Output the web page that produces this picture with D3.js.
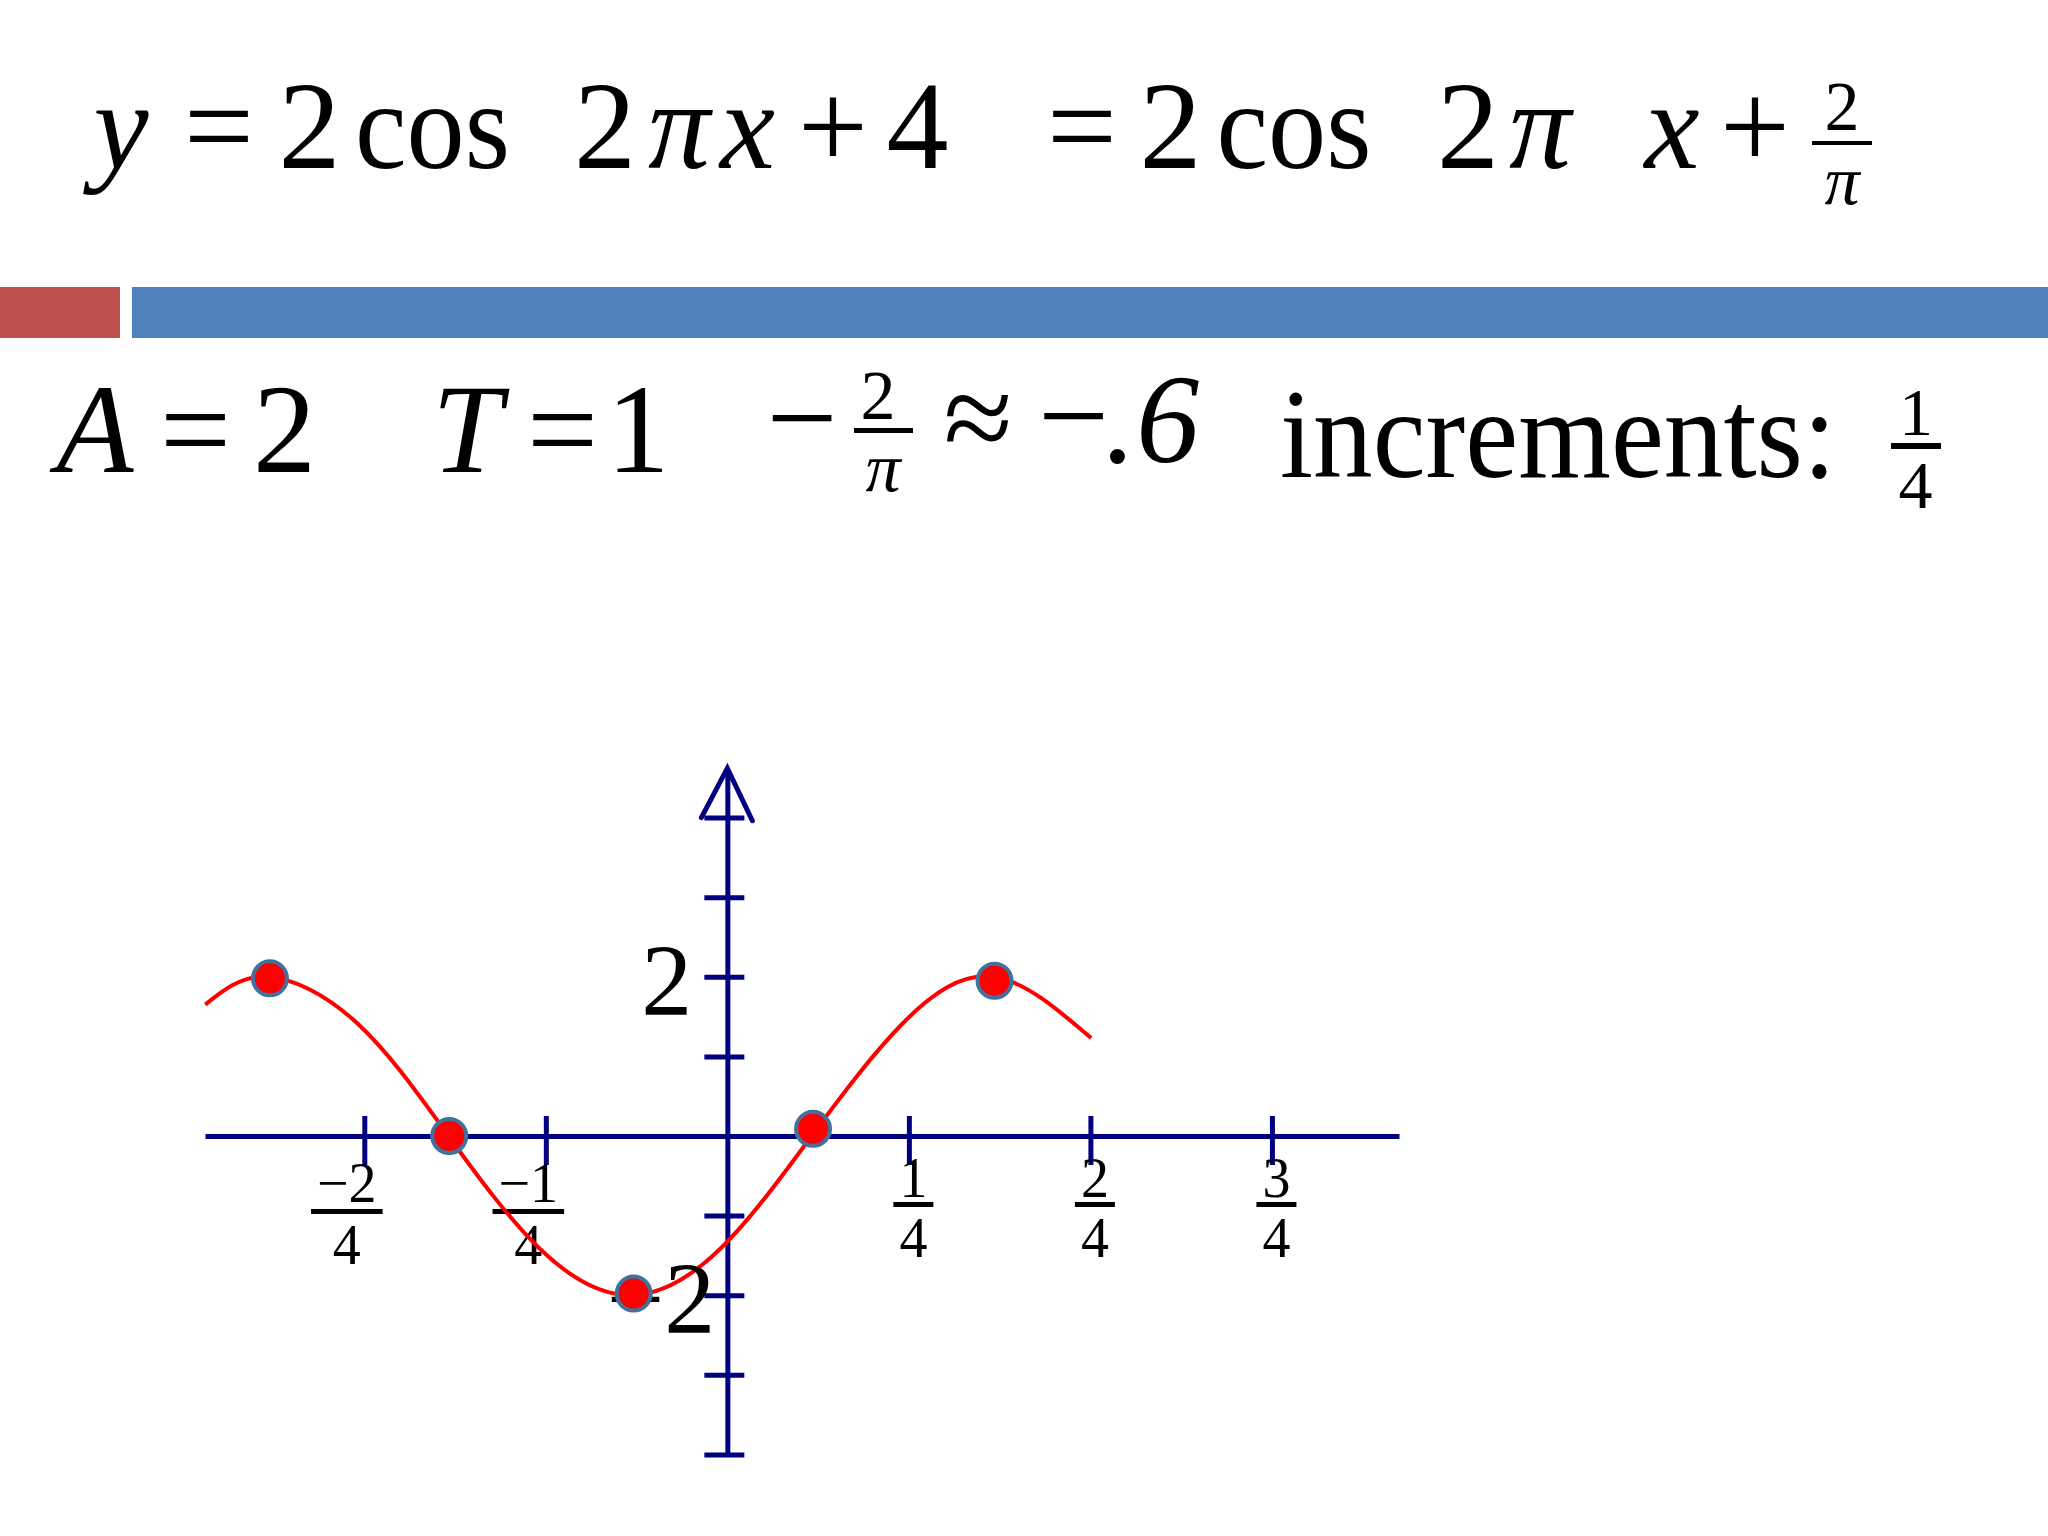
<!DOCTYPE html>
<html><head><meta charset="utf-8">
<script src="https://cdn.jsdelivr.net/npm/d3@7"></script>
<style>html,body{margin:0;padding:0;background:#fff;} svg{display:block;}</style>
</head><body>
<script>
// ---- data ----
const curveX = [-0.719, -0.634, -0.509, -0.384, -0.259, -0.134, -0.009, 0.116, 0.241, 0.366, 0.501];
const curveY = [1.65, 2, 1.41, 0, -1.41, -2, -1.41, 0, 1.41, 2, 1.23];
const dotX = [-0.630, -0.383, -0.129, 0.118, 0.368];
const dotY = [1.98, 0, -1.98, 0.09, 1.95];
const xTickValues = [-0.5, -0.25, 0.25, 0.5, 0.75];
const xTickNumerators = ["−2", "−1", "1", "2", "3"];
const xTickDenominator = "4";
const yTickValues = [-4, -3, -2, -1, 1, 2, 3, 4];
const yLabelValues = [2, -2];
const yLabelTexts = ["2", "−2"];
const xDomain = [-0.7194, 0.925];
const yDomain = [-4, 4.6];
const arrowTip = 4.62;

const W = 2048, H = 1536;
const FONT = "'Liberation Serif','Times New Roman',serif";
const NAVY = "#000080";

const svg = d3.select("body").append("svg").attr("width", W).attr("height", H)
  .style("background", "#fff");

// ---- header texts ----
function txt(t, cx, y, size, italic, opts) {
  const e = svg.append("text").attr("x", cx).attr("y", y)
    .attr("text-anchor", "middle").attr("font-family", FONT)
    .attr("font-size", size).attr("fill", "#000")
    .attr("font-style", italic ? "italic" : "normal").text(t);
  if (opts && opts.len) e.attr("textLength", opts.len).attr("lengthAdjust", "spacingAndGlyphs");
  return e;
}
function fracBar(x0, x1, y, h) {
  svg.append("rect").attr("x", x0).attr("y", y).attr("width", x1 - x0).attr("height", h).attr("fill", "#000");
}

// line 1: y = 2cos 2πx+4 = 2cos 2π x + 2/π
const L1 = 168, S1 = 124;
[["y",121,true],["=",219,false],["2",309.5,false],["cos",432.5,false,155],["2",605,false],
 ["π",679,true],["x",747.5,true],["+",833,false],["4",917.5,false],
 ["=",1082,false],["2",1170.5,false],["cos",1294,false,155],["2",1468,false],["π",1540,true],
 ["x",1672,true],["+",1755,false]].forEach(d => txt(d[0], d[1], L1, S1, d[2], d[3] ? {len:d[3]} : null));
txt("2", 1842, 130, 70, false);
fracBar(1812, 1872, 141, 4);
txt("π", 1842, 204, 70, true);

// divider bars
svg.append("rect").attr("x", 0).attr("y", 287).attr("width", 120).attr("height", 51).attr("fill", "#C0504D");
svg.append("rect").attr("x", 132).attr("y", 287).attr("width", W - 132).attr("height", 51).attr("fill", "#4F81BD");

// line 2
const S2 = 126;
txt("A", 95, 472, S2, true);
txt("=", 195.5, 472, S2, false);
txt("2", 284.5, 472, S2, false);
txt("T", 467, 472, S2, true);
txt("=", 562.5, 472, S2, false);
txt("1", 638, 472, S2, false);
txt("−", 802, 460, S2, false);
txt("2", 878, 419, 70, false);
fracBar(854, 913, 428, 5);
txt("π", 883, 491, 70, true);
txt("≈", 978, 460, S2, false);
txt("−", 1073.5, 458, S2, false);
txt(".6", 1152, 462, S2, true);
txt("increments:", 1558, 477, S2, false, {len: 556});
txt("1", 1916, 435, 68, false);
fracBar(1891, 1941, 443, 6);
txt("4", 1915.5, 508, 68, false);

// ---- chart ----
const x = d3.scaleLinear().domain(xDomain).range([205, 1399]);
const y = d3.scaleLinear().domain(yDomain).range([1454.4, 769.8]);

// x axis
const gx = svg.append("g").attr("transform", `translate(0,${y(0)})`)
  .call(d3.axisBottom(x).tickValues(xTickValues).tickSizeOuter(0).tickFormat(""));
gx.select(".domain").attr("stroke", NAVY).attr("stroke-width", 5);
gx.selectAll(".tick line").attr("stroke", NAVY).attr("stroke-width", 5).attr("y1", -20).attr("y2", 29);
gx.selectAll(".tick text").remove();
gx.selectAll(".tick").each(function(v, i) {
  const g = d3.select(this);
  const neg = v < 0;
  const off = neg ? -18 : 4;
  const num = g.append("text").attr("x", off).attr("y", neg ? 66 : 61)
    .attr("text-anchor", "middle").attr("font-family", FONT).attr("font-size", 56)
    .attr("fill", "#000").text(xTickNumerators[i]);
  const den = g.append("text").attr("x", off).attr("y", neg ? 128 : 121)
    .attr("text-anchor", "middle").attr("font-family", FONT).attr("font-size", 56)
    .attr("fill", "#000").text(xTickDenominator);
  const w = Math.max(num.node().getComputedTextLength(), den.node().getComputedTextLength()) + 12;
  g.append("rect").attr("x", off - w / 2).attr("y", neg ? 73 : 66).attr("width", w).attr("height", 5).attr("fill", "#000");
});

// y axis
const gy = svg.append("g").attr("transform", `translate(${x(0)},0)`)
  .call(d3.axisLeft(y).tickValues(yTickValues).tickSizeOuter(0).tickFormat(""));
gy.select(".domain").attr("stroke", NAVY).attr("stroke-width", 5);
gy.selectAll(".tick line").attr("stroke", NAVY).attr("stroke-width", 5).attr("x1", -23).attr("x2", 17);
gy.selectAll(".tick text").remove();
// arrow head
gy.append("path")
  .attr("d", d3.line()([[-26, y(4)], [0, y(arrowTip)], [25, y(3.96)]]))
  .attr("fill", "none").attr("stroke", NAVY).attr("stroke-width", 5)
  .attr("stroke-linecap", "round").attr("stroke-linejoin", "miter");

// curve
const pts = curveX.map((d, i) => [x(d), y(curveY[i])]);
svg.append("path").attr("d", d3.line().curve(d3.curveNatural)(pts))
  .attr("fill", "none").attr("stroke", "#ff0000").attr("stroke-width", 4);

// y labels
yLabelValues.forEach((v, i) => {
  svg.append("text").attr("x", x(0) - (v > 0 ? 35 : 12)).attr("y", y(v) + 38)
    .attr("text-anchor", "end").attr("font-family", FONT).attr("font-size", 102)
    .attr("fill", "#000").text(yLabelTexts[i]);
});

// dots
svg.selectAll("circle.dot").data(dotX.map((d, i) => [d, dotY[i]])).enter()
  .append("circle").attr("class", "dot")
  .attr("cx", d => x(d[0])).attr("cy", d => y(d[1])).attr("r", 17)
  .attr("fill", "#ff0000").attr("stroke", "#41719C").attr("stroke-width", 4);
</script>
</body></html>
